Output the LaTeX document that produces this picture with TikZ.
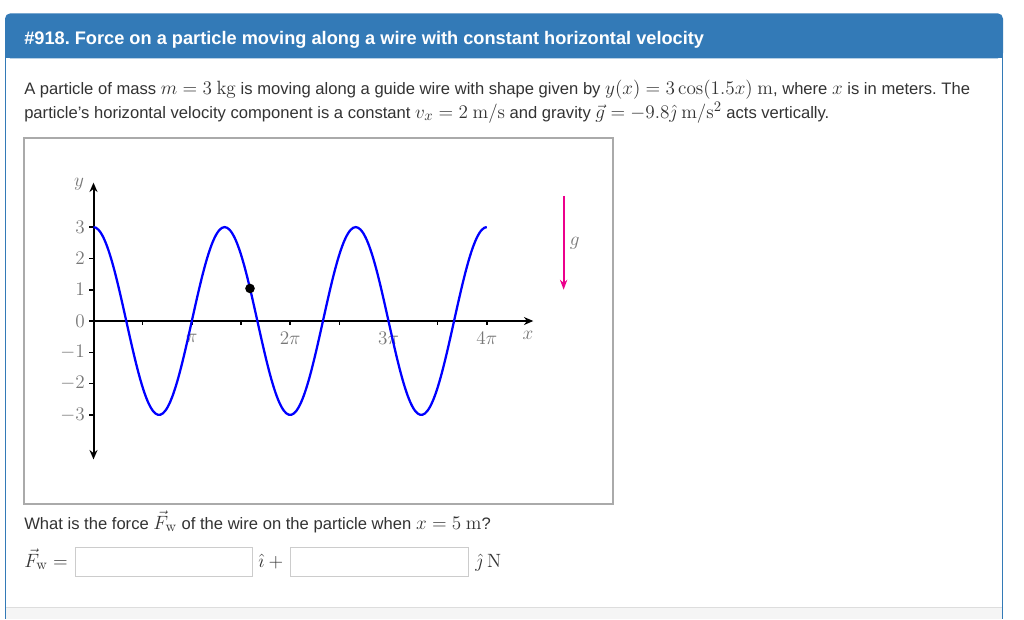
\documentclass[tikz,border=0pt]{standalone}
\usepackage[no-math]{fontspec}
\setmainfont{Liberation Sans}[Scale = 0.83]
\usepackage{amsmath, amssymb}
\usepackage{tikz}
\usetikzlibrary{arrows.meta, positioning}

\definecolor{panelazul}{HTML}{337AB7}
\definecolor{textogris}{HTML}{333333}
\definecolor{piegris}{HTML}{F5F5F5}
\definecolor{pielinea}{HTML}{DDDDDD}
\definecolor{marcogris}{HTML}{AAAAAA}
\definecolor{cajagris}{HTML}{CCCCCC}
\definecolor{etiqgris}{HTML}{777777}

\frenchspacing
\begin{document}
\begin{tikzpicture}[x = 0.75pt, y = -0.75pt,
    texto/.style = {anchor = base west, inner sep = 0pt, text = textogris, font = \fontsize{15}{18}\selectfont},
    titulo/.style = {anchor = base west, inner sep = 0pt, text = white, font = \fontsize{16.45}{20}\selectfont\bfseries},
    caja/.style = {draw = cajagris, line width = 0.75pt, fill = white, minimum height = 21.4pt, inner sep = 0pt},
    eje/.style = {line width = 1.5pt, black},
    marca/.style = {line width = 1.2pt, black},
    etiq/.style = {inner sep = 0pt, text = etiqgris, font = \fontsize{13.5}{16}\selectfont},
    alambre/.style = {line width = 1.7pt, blue},
    particula/.style = {circle, fill = black, inner sep = 0pt, minimum size = 7.2pt}]

    % Tamaño de la figura en pixeles (1px = 0.75pt).
    \useasboundingbox (0,0) rectangle (1024,619);
    \fill[white] (0,0) rectangle (1024,619);

    % Panel con su cabecera azul y el pie gris.
    \fill[panelazul, rounded corners = 4] (5,13.3) rectangle (1003,58.3);
    \fill[panelazul] (5,40) rectangle (1003,58.3);
    \fill[piegris] (5.5,607) rectangle (1002.5,619);
    \draw[pielinea, line width = 0.75pt] (5.5,607) -- (1002.5,607);
    \draw[panelazul, line width = 0.75pt] (5.5,58) -- (5.5,619);
    \draw[panelazul, line width = 0.75pt] (1002.5,58) -- (1002.5,619);

    \node[titulo] (tit) at (24,44) {\#918. Force on a particle moving along a wire with constant horizontal velocity};

    % Enunciado.
    \node[texto] (linea1) at (24,94.3) {A particle of mass $m = 3\ \mathrm{kg}$ is moving along a guide wire with shape given by $y(x) = 3\cos(1.5x)\ \mathrm{m}$, where $x$ is in meters. The};
    \node[texto] (linea2) at (24,118) {particle's horizontal velocity component is a constant $v_x = 2\ \mathrm{m}/\mathrm{s}$ and gravity $\vec{g} = -9.8\hat{\jmath}\ \mathrm{m}/\mathrm{s}^2$ acts vertically.};

    % Marco de la figura.
    \draw[marcogris, line width = 1pt] (24,138) rectangle (613,504);

    % Origen de la grafica y escala (31.3px por unidad).
    \coordinate (O) at (93.5,321);
    \begin{scope}[shift = {(O)}, x = 23.475pt, y = 23.475pt]
        \pgfmathsetmacro{\yP}{3*cos(deg(7.5))}

        % Ejes:
        \coordinate (ybot) at (0,-4.42);
        \coordinate (ytop) at (0,4.42);
        \coordinate (xend) at (14.05,0);
        \draw[eje, {Stealth[length=7pt, width=6pt]}-{Stealth[length=7pt, width=6pt]}] (ybot) -- (ytop);
        \draw[eje, -{Stealth[length=7pt, width=6pt]}] (0,0) -- (xend);
        \node[etiq] (ylab) at (-0.46,4.38) {$y$};
        \node[etiq] (xlab) at (13.88,-0.45) {$x$};

        % Marcas del eje y:
        \foreach \k in {-3,...,3} {
            \draw[marca] (0,\k) -- (-0.15,\k);
            \node[etiq, anchor = east] (yt\k) at (-0.27,\k) {$\k$};
        }
        % Marcas del eje x cada pi/2:
        \foreach \k in {1,...,8}
            \draw[marca] ({\k*pi/2},0) -- ({\k*pi/2},-0.13);
        \node[etiq] (xt1) at ({pi},-0.55) {$\pi$};
        \foreach \k in {2,3,4}
            \node[etiq] (xt\k) at ({\k*pi},-0.55) {$\k\pi$};

        % Alambre y particula:
        \draw[alambre] plot[domain = 0:{4*pi}, samples = 160, smooth] (\x, {3*cos(deg(1.5*\x))});
        \node[particula] (P) at (5,\yP) {};

        % Gravedad:
        \coordinate (gtop) at (15.02,4);
        \coordinate (gtip) at (15.02,1.0);
        \draw[magenta, line width = 1.5pt, -{Stealth[length=7.5pt, width=5.5pt]}] (gtop) -- (gtip) node[midway, right = 4pt, etiq] (glab) {$g$};
    \end{scope}

    % Pregunta y respuesta.
    \node[texto] (preg) at (24,529) {What is the force $\vec{F}_{\mathrm{w}}$ of the wire on the particle when $x = 5\ \mathrm{m}$?};
    \node[texto] (Fw) at (24,567) {$\vec{F}_{\mathrm{w}} =$};
    \node[caja, minimum width = 132.8pt] (cajai) at (163.8,562) {};
    \node[texto] (ihat) at (258,567) {$\hat{\imath} + {}$};
    \node[caja, minimum width = 133.8pt] (cajaj) at (379.5,562) {};
    \node[texto] (jhat) at (475,567) {$\hat{\jmath}\ \mathrm{N}$};

\end{tikzpicture}
\end{document}
